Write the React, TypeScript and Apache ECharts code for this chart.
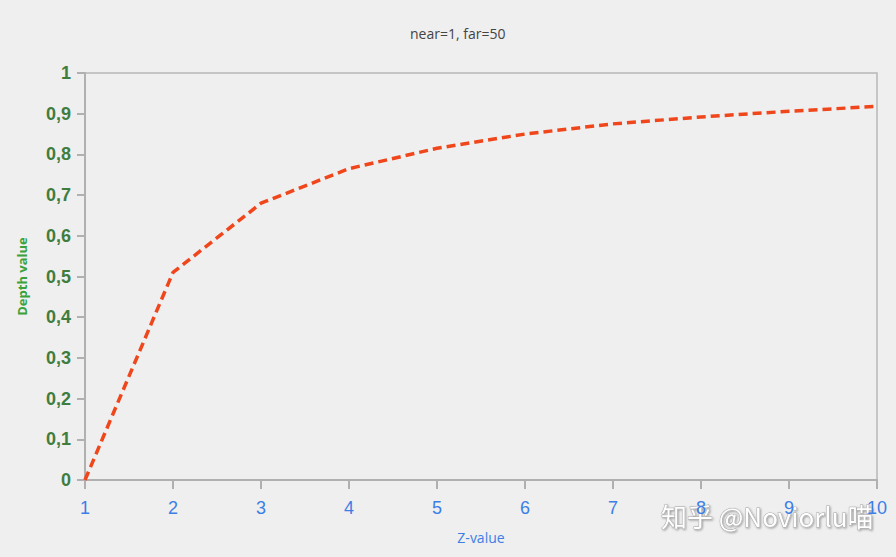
import React, { useEffect, useRef } from "react";
import * as echarts from "echarts";

const zValues = [1, 2, 3, 4, 5, 6, 7, 8, 9, 10];
const depthValues = [0, 0.51, 0.68, 0.765, 0.815, 0.85, 0.875, 0.892, 0.906, 0.918];
const titleText = "near=1, far=50";
const xName = "Z-value";
const yName = "Depth value";
const watermark = "知乎 @Noviorlu喵";

export default function App() {
  const ref = useRef<HTMLDivElement>(null);
  useEffect(() => {
    if (!ref.current) return;
    const chart = echarts.init(ref.current, undefined, { renderer: "svg" });
    chart.setOption({
      animation: false,
      backgroundColor: "#efefef",
      title: {
        text: titleText,
        left: 405,
        top: 21,
        textStyle: { fontFamily: "Open Sans", fontSize: 14, fontWeight: "normal", color: "#444" },
      },
      grid: { left: 85, right: 19, top: 73, bottom: 77, show: true, borderColor: "#b8b8b8", borderWidth: 1.5, backgroundColor: "transparent" },
      xAxis: {
        type: "value",
        min: 1,
        max: 10,
        interval: 1,
        name: xName,
        nameLocation: "middle",
        nameGap: 50,
        nameTextStyle: { color: "#3d7ee6", fontSize: 14, fontFamily: "Open Sans" },
        axisLine: { lineStyle: { color: "#b0b0b0", width: 2 } },
        axisTick: { show: true, length: 9, lineStyle: { color: "#b0b0b0", width: 2 } },
        splitLine: { show: false },
        axisLabel: { color: "#3d7ee6", fontSize: 18, fontFamily: "Liberation Sans", margin: 19 },
      },
      yAxis: {
        type: "value",
        min: 0,
        max: 1,
        interval: 0.1,
        name: yName,
        nameLocation: "middle",
        nameGap: 57,
        nameTextStyle: { color: "#3aa23a", fontSize: 13, fontWeight: "bold", fontFamily: "Open Sans" },
        axisLine: { show: true, lineStyle: { color: "#b0b0b0", width: 2 } },
        axisTick: { show: true, length: 8, lineStyle: { color: "#b0b0b0", width: 2 } },
        splitLine: { show: false },
        axisLabel: {
          color: "#3f7d3f",
          fontSize: 18,
          fontWeight: "bold",
          fontFamily: "Liberation Sans",
          margin: 14,
          formatter: (v: number) => String(Math.round(v * 10) / 10).replace(".", ","),
        },
      },
      series: [
        {
          type: "line",
          data: zValues.map((z, i) => [z, depthValues[i]]),
          symbol: "none",
          lineStyle: { color: "#f0461c", width: 3.5, type: [9, 5] },
        },
      ],
      graphic: [
        {
          type: "text",
          right: 22,
          top: 502,
          style: {
            text: watermark,
            fill: "#ffffff",
            fontSize: 26,
            fontFamily: "Noto Sans CJK SC",
            stroke: "#a8a8a8",
            lineWidth: 1,
            textShadowColor: "rgba(0,0,0,0.35)",
            textShadowBlur: 2,
            textShadowOffsetX: 1,
            textShadowOffsetY: 1,
          },
        },
      ],
    });
    return () => chart.dispose();
  }, []);
  return <div ref={ref} style={{ position: "fixed", left: 0, top: 0, width: 896, height: 557 }} />;
}
